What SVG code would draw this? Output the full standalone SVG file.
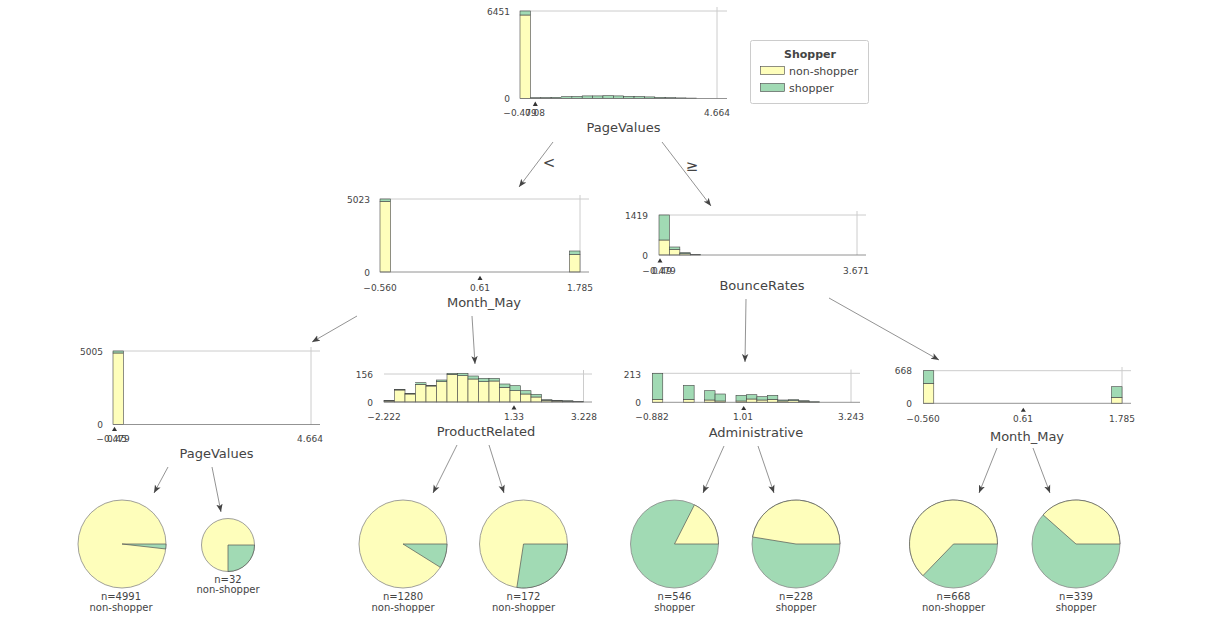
<svg xmlns="http://www.w3.org/2000/svg" width="1232" height="638" viewBox="0 0 1232 638">
<defs>
<marker id="ah" viewBox="0 0 10 10" refX="10" refY="5" markerWidth="8" markerHeight="8" markerUnits="userSpaceOnUse" orient="auto"><path d="M0,1 L10,5 L0,9 L2.5,5 z" fill="#444"/></marker>
</defs>
<style>
text{font-family:"DejaVu Sans","Liberation Sans",sans-serif;fill:#444}
.tk{font-size:9px}
.ft{font-size:13px;text-anchor:middle}
.e{text-anchor:end}
.c{text-anchor:middle}
.ye{fill:#fefebb;stroke:#444;stroke-width:0.6}
.gr{fill:#a1dab4;stroke:#444;stroke-width:0.6}
.fr{stroke:#ccc;stroke-width:1;fill:none}
.bs{stroke:#777;stroke-width:0.8;fill:none}
.tri{fill:#333}
.edge{stroke:#777;stroke-width:0.8;fill:none;marker-end:url(#ah)}
.pc{stroke:#888;stroke-width:0.8}
.pw{stroke:#555;stroke-width:0.7}
.pt{font-size:10px;text-anchor:middle}
</style>
<rect width="1232" height="638" fill="#fff"/>

<g id="connectors">
<path class="edge" d="M553,142 L519,187"/>
<path class="edge" d="M662,142 L711,206"/>
<path class="edge" d="M357,316 L312,342"/>
<path class="edge" d="M472,316 L475,364"/>
<path class="edge" d="M746,299 L745,362"/>
<path class="edge" d="M829,298 L939,360"/>
<path class="edge" d="M168,467 L154,493"/>
<path class="edge" d="M212,467 L221,512"/>
<path class="edge" d="M457,445 L433,493"/>
<path class="edge" d="M489,445 L504,493"/>
<path class="edge" d="M724,446 L703,493"/>
<path class="edge" d="M758,446 L774,493"/>
<path class="edge" d="M997,448 L979,493"/>
<path class="edge" d="M1033,448 L1050,493"/>
<text x="549" y="168" class="c" style="font-size:15px">&lt;</text>
<text x="692" y="171" class="c" style="font-size:15px">≥</text>
</g>

<g id="legend">
<rect x="750.5" y="40.5" width="118" height="63" rx="2" fill="#fff" stroke="#ccc"/>
<text x="810" y="58" class="c" style="font-size:11px;font-weight:bold">Shopper</text>
<rect x="760.5" y="66.5" width="24" height="8" class="ye"/>
<text x="789" y="75" style="font-size:11px">non-shopper</text>
<rect x="760.5" y="83.5" width="24" height="8" class="gr"/>
<text x="789" y="92" style="font-size:11px">shopper</text>
</g>

<g id="node0">
<path class="fr" d="M520,11 H727 M717,7 V98.5"/>
<rect class="ye" x="520" y="15" width="10.37" height="83.5"/>
<rect class="gr" x="520" y="11" width="10.37" height="4"/>
<rect class="gr" x="530.37" y="97.7" width="10.37" height="0.8"/>
<rect class="gr" x="540.74" y="97.5" width="10.37" height="1"/>
<rect class="gr" x="551.10" y="97.3" width="10.37" height="1.2"/>
<rect class="gr" x="561.47" y="96.7" width="10.37" height="1.8"/>
<rect class="gr" x="571.84" y="96.5" width="10.37" height="2"/>
<rect class="gr" x="582.21" y="95.9" width="10.37" height="2.6"/>
<rect class="gr" x="592.58" y="95.9" width="10.37" height="2.6"/>
<rect class="gr" x="602.94" y="95.7" width="10.37" height="2.8"/>
<rect class="gr" x="613.31" y="95.9" width="10.37" height="2.6"/>
<rect class="gr" x="623.68" y="96.3" width="10.37" height="2.2"/>
<rect class="gr" x="634.05" y="96.5" width="10.37" height="2"/>
<rect class="gr" x="644.42" y="96.9" width="10.37" height="1.6"/>
<rect class="gr" x="654.78" y="97.3" width="10.37" height="1.2"/>
<rect class="gr" x="665.15" y="97.6" width="10.37" height="0.9"/>
<rect class="gr" x="675.52" y="97.9" width="10.37" height="0.6"/>
<rect class="gr" x="685.89" y="98.1" width="10.37" height="0.4"/>
<path class="bs" d="M520,98.5 H727"/>
<text x="510" y="15" class="tk e">6451</text>
<text x="510" y="102" class="tk e">0</text>
<polygon class="tri" points="535.3,101.5 537.8,106 532.8,106"/>
<text x="520" y="116" class="tk c">−0.479</text>
<text x="535" y="116" class="tk c">0.08</text>
<text x="717" y="116" class="tk c">4.664</text>
<text x="623.5" y="132" class="ft">PageValues</text>
</g>

<g id="node1">
<path class="fr" d="M380,199 H589 M580,195 V272"/>
<rect class="ye" x="380" y="201.5" width="10.53" height="70.5"/>
<rect class="gr" x="380" y="199" width="10.53" height="2.5"/>
<rect class="ye" x="569.47" y="254.5" width="10.53" height="17.5"/>
<rect class="gr" x="569.47" y="251" width="10.53" height="3.5"/>
<path class="bs" d="M380,272 H589"/>
<text x="370" y="202.5" class="tk e">5023</text>
<text x="370" y="275.5" class="tk e">0</text>
<polygon class="tri" points="480,275.7 482.5,280 477.5,280"/>
<text x="380" y="291" class="tk c">−0.560</text>
<text x="480" y="291" class="tk c">0.61</text>
<text x="580" y="291" class="tk c">1.785</text>
<text x="484" y="306.5" class="ft">Month_May</text>
</g>

<g id="node2">
<path class="fr" d="M659,215 H866 M857,211 V255"/>
<rect class="ye" x="659" y="240" width="10.42" height="15"/>
<rect class="gr" x="659" y="215" width="10.42" height="25"/>
<rect class="ye" x="669.42" y="249.5" width="10.42" height="5.5"/>
<rect class="gr" x="669.42" y="247" width="10.42" height="2.5"/>
<rect class="ye" x="679.84" y="253.7" width="10.42" height="1.3"/>
<rect class="gr" x="679.84" y="252.7" width="10.42" height="1"/>
<rect class="gr" x="690.26" y="254.3" width="10.42" height="0.7"/>
<path class="bs" d="M659,255 H866"/>
<text x="648" y="218.5" class="tk e">1419</text>
<text x="648" y="259" class="tk e">0</text>
<polygon class="tri" points="660,258.3 662.5,262.5 657.5,262.5"/>
<text x="659" y="273.5" class="tk c">−0.479</text>
<text x="662" y="273.5" class="tk c">0.49</text>
<text x="856" y="273.5" class="tk c">3.671</text>
<text x="762" y="290" class="ft">BounceRates</text>
</g>

<g id="node3">
<path class="fr" d="M113,351 H320 M311,347 V424.5"/>
<rect class="ye" x="113" y="353" width="10.42" height="71.5"/>
<rect class="gr" x="113" y="351" width="10.42" height="2"/>
<path class="bs" d="M113,424.5 H320"/>
<text x="103" y="355" class="tk e">5005</text>
<text x="103" y="428" class="tk e">0</text>
<polygon class="tri" points="114.5,426.7 117,431 112,431"/>
<text x="113" y="442" class="tk c">−0.479</text>
<text x="117" y="442" class="tk c">0.45</text>
<text x="310" y="442" class="tk c">4.664</text>
<text x="216.5" y="458" class="ft">PageValues</text>
</g>

<g id="node4">
<path class="fr" d="M384,374 H592 M583.5,370 V402"/>
<rect class="ye" x="384" y="401" width="10.5" height="1"/><rect class="gr" x="384" y="400.5" width="10.5" height="0.5"/>
<rect class="ye" x="394.5" y="390" width="10.5" height="12"/><rect class="gr" x="394.5" y="389.3" width="10.5" height="0.7"/>
<rect class="ye" x="405" y="394" width="10.5" height="8"/><rect class="gr" x="405" y="393.3" width="10.5" height="0.7"/>
<rect class="ye" x="415.5" y="384.3" width="10.5" height="17.7"/><rect class="gr" x="415.5" y="382.7" width="10.5" height="1.6"/>
<rect class="ye" x="426" y="386" width="10.5" height="16"/><rect class="gr" x="426" y="385.3" width="10.5" height="0.7"/>
<rect class="ye" x="436.5" y="381.7" width="10.5" height="20.3"/><rect class="gr" x="436.5" y="380" width="10.5" height="1.7"/>
<rect class="ye" x="447" y="374.3" width="10.5" height="27.7"/><rect class="gr" x="447" y="373.3" width="10.5" height="1"/>
<rect class="ye" x="457.5" y="375.7" width="10.5" height="26.3"/><rect class="gr" x="457.5" y="373.3" width="10.5" height="2.4"/>
<rect class="ye" x="468" y="379" width="10.5" height="23"/><rect class="gr" x="468" y="376" width="10.5" height="3"/>
<rect class="ye" x="478.5" y="381.7" width="10.5" height="20.3"/><rect class="gr" x="478.5" y="378.3" width="10.5" height="3.4"/>
<rect class="ye" x="489" y="381" width="10.5" height="21"/><rect class="gr" x="489" y="378.3" width="10.5" height="2.7"/>
<rect class="ye" x="499.5" y="387.3" width="10.5" height="14.7"/><rect class="gr" x="499.5" y="384" width="10.5" height="3.3"/>
<rect class="ye" x="510" y="390.7" width="10.5" height="11.3"/><rect class="gr" x="510" y="385.7" width="10.5" height="5"/>
<rect class="ye" x="520.5" y="394" width="10.5" height="8"/><rect class="gr" x="520.5" y="390.7" width="10.5" height="3.3"/>
<rect class="ye" x="531" y="397" width="10.5" height="5"/><rect class="gr" x="531" y="394.3" width="10.5" height="2.7"/>
<rect class="ye" x="541.5" y="400.3" width="10.5" height="1.7"/><rect class="gr" x="541.5" y="399.7" width="10.5" height="0.6"/>
<rect class="ye" x="552" y="401" width="10.5" height="1"/><rect class="gr" x="552" y="400.3" width="10.5" height="0.7"/>
<rect class="ye" x="562.5" y="401.3" width="10.5" height="0.7"/><rect class="gr" x="562.5" y="400.7" width="10.5" height="0.6"/>
<rect class="gr" x="573" y="401.5" width="10.5" height="0.5"/>
<path class="bs" d="M384,402 H592"/>
<text x="373" y="377.5" class="tk e">156</text>
<text x="373" y="405.5" class="tk e">0</text>
<polygon class="tri" points="514,405.3 516.5,409.5 511.5,409.5"/>
<text x="384" y="419.5" class="tk c">−2.222</text>
<text x="514" y="419.5" class="tk c">1.33</text>
<text x="584" y="419.5" class="tk c">3.228</text>
<text x="486" y="436" class="ft">ProductRelated</text>
</g>

<g id="node5">
<path class="fr" d="M652.3,373.3 H860 M851,369.5 V402.3"/>
<rect class="ye" x="652.3" y="399.3" width="10.46" height="3"/><rect class="gr" x="652.3" y="373.3" width="10.46" height="26"/>
<rect class="ye" x="683.68" y="399.3" width="10.46" height="3"/><rect class="gr" x="683.68" y="385.3" width="10.46" height="14"/>
<rect class="ye" x="704.6" y="400" width="10.46" height="2.3"/><rect class="gr" x="704.6" y="390.7" width="10.46" height="9.3"/>
<rect class="ye" x="715.06" y="401" width="10.46" height="1.3"/><rect class="gr" x="715.06" y="394" width="10.46" height="7"/>
<rect class="ye" x="735.98" y="401" width="10.46" height="1.3"/><rect class="gr" x="735.98" y="395.3" width="10.46" height="5.7"/>
<rect class="ye" x="746.44" y="399" width="10.46" height="3.3"/><rect class="gr" x="746.44" y="394.7" width="10.46" height="4.3"/>
<rect class="ye" x="756.9" y="400" width="10.46" height="2.3"/><rect class="gr" x="756.9" y="396.7" width="10.46" height="3.3"/>
<rect class="ye" x="767.36" y="399.3" width="10.46" height="3"/><rect class="gr" x="767.36" y="395.3" width="10.46" height="4"/>
<rect class="ye" x="777.82" y="401" width="10.46" height="1.3"/><rect class="gr" x="777.82" y="400" width="10.46" height="1"/>
<rect class="ye" x="788.28" y="400.7" width="10.46" height="1.6"/><rect class="gr" x="788.28" y="399.7" width="10.46" height="1"/>
<rect class="ye" x="798.74" y="401.3" width="10.46" height="1"/><rect class="gr" x="798.74" y="400.7" width="10.46" height="0.6"/>
<rect class="gr" x="809.2" y="401.7" width="10.46" height="0.6"/>
<path class="bs" d="M652.3,402.3 H860"/>
<text x="641" y="377.5" class="tk e">213</text>
<text x="641" y="406" class="tk e">0</text>
<polygon class="tri" points="743.7,406 746.2,410 741.2,410"/>
<text x="652" y="420" class="tk c">−0.882</text>
<text x="743" y="420" class="tk c">1.01</text>
<text x="851" y="420" class="tk c">3.243</text>
<text x="756" y="436.5" class="ft">Administrative</text>
</g>

<g id="node6">
<path class="fr" d="M923.3,370.7 H1131 M1122,367 V403.3"/>
<rect class="ye" x="923.3" y="383.3" width="10.46" height="20"/>
<rect class="gr" x="923.3" y="370.7" width="10.46" height="12.6"/>
<rect class="ye" x="1111.58" y="397.3" width="10.46" height="6"/>
<rect class="gr" x="1111.58" y="386.7" width="10.46" height="10.6"/>
<path class="bs" d="M923.3,403.3 H1131"/>
<text x="912" y="374" class="tk e">668</text>
<text x="912" y="406.5" class="tk e">0</text>
<polygon class="tri" points="1023.3,407.7 1025.8,411.7 1020.8,411.7"/>
<text x="923" y="422" class="tk c">−0.560</text>
<text x="1023" y="422" class="tk c">0.61</text>
<text x="1122" y="422" class="tk c">1.785</text>
<text x="1027" y="440.5" class="ft">Month_May</text>
</g>

<g id="leaf1">
<circle cx="122" cy="544" r="44" fill="#fefebb" class="pc"/>
<path d="M122,544 L166,544 A44,44 0 0,1 165.72,548.98 Z" fill="#a1dab4" class="pw"/>
<text x="121" y="600" class="pt">n=4991</text>
<text x="121" y="610.5" class="pt">non-shopper</text>
</g>
<g id="leaf2">
<circle cx="228" cy="545" r="26.5" fill="#fefebb" class="pc"/>
<path d="M228,545 L254.5,545 A26.5,26.5 0 0,1 228,571.5 Z" fill="#a1dab4" class="pw"/>
<text x="228" y="582.5" class="pt">n=32</text>
<text x="228" y="593" class="pt">non-shopper</text>
</g>
<g id="leaf3">
<circle cx="403" cy="544" r="44" fill="#fefebb" class="pc"/>
<path d="M403,544 L447,544 A44,44 0 0,1 440.31,567.32 Z" fill="#a1dab4" class="pw"/>
<text x="403" y="600" class="pt">n=1280</text>
<text x="403" y="610.5" class="pt">non-shopper</text>
</g>
<g id="leaf4">
<circle cx="523.5" cy="544" r="44" fill="#fefebb" class="pc"/>
<path d="M523.5,544 L567.5,544 A44,44 0 0,1 516.85,587.49 Z" fill="#a1dab4" class="pw"/>
<text x="523.5" y="600" class="pt">n=172</text>
<text x="523.5" y="610.5" class="pt">non-shopper</text>
</g>
<g id="leaf5">
<circle cx="674.5" cy="544" r="44" fill="#a1dab4" class="pc"/>
<path d="M674.5,544 L718.5,544 A44,44 0 0,0 694.48,504.80 Z" fill="#fefebb" class="pw"/>
<text x="674.5" y="600" class="pt">n=546</text>
<text x="674.5" y="610.5" class="pt">shopper</text>
</g>
<g id="leaf6">
<circle cx="796" cy="544" r="44" fill="#a1dab4" class="pc"/>
<path d="M796,544 L840,544 A44,44 0 0,0 752.57,536.97 Z" fill="#fefebb" class="pw"/>
<text x="796" y="600" class="pt">n=228</text>
<text x="796" y="610.5" class="pt">shopper</text>
</g>
<g id="leaf7">
<circle cx="953.5" cy="544" r="44" fill="#a1dab4" class="pc"/>
<path d="M953.5,544 L997.5,544 A44,44 0 1,0 922.93,575.65 Z" fill="#fefebb" class="pw"/>
<text x="953.5" y="600" class="pt">n=668</text>
<text x="953.5" y="610.5" class="pt">non-shopper</text>
</g>
<g id="leaf8">
<circle cx="1076" cy="544" r="44" fill="#a1dab4" class="pc"/>
<path d="M1076,544 L1120,544 A44,44 0 0,0 1043.05,514.85 Z" fill="#fefebb" class="pw"/>
<text x="1076" y="600" class="pt">n=339</text>
<text x="1076" y="610.5" class="pt">shopper</text>
</g>
</svg>
